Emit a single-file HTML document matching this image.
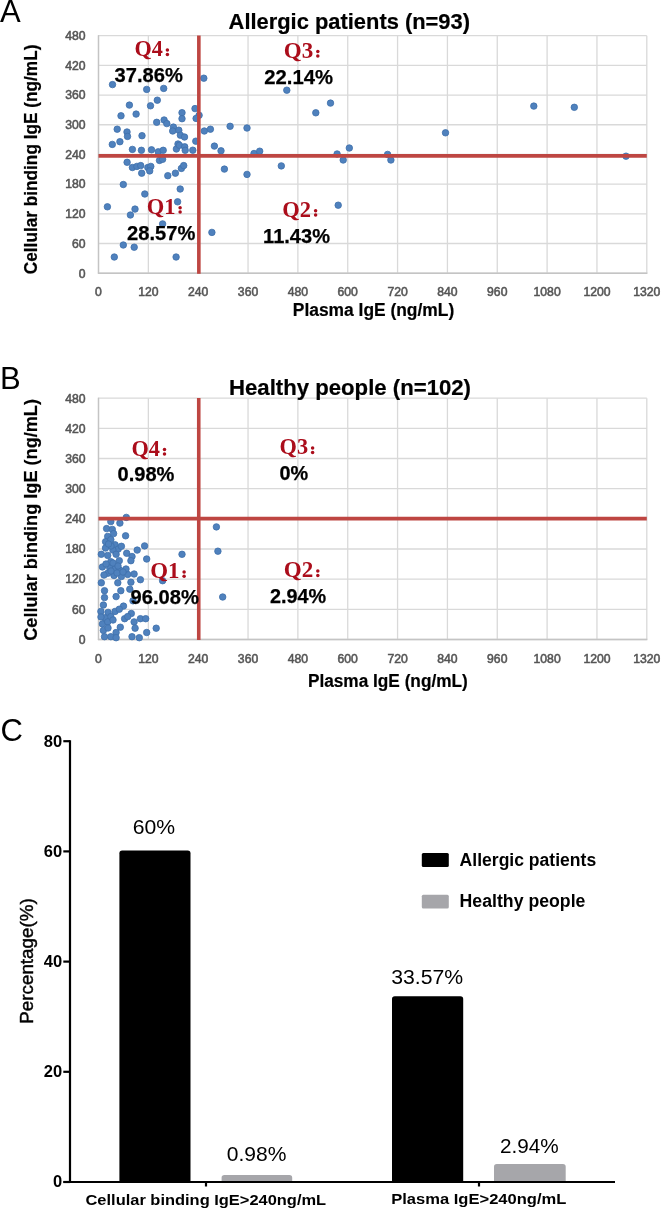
<!DOCTYPE html>
<html><head><meta charset="utf-8"><style>
html,body{margin:0;padding:0;background:#fff;}
svg{display:block;will-change:transform;}
.g{stroke:#d9d9d9;stroke-width:1.3;}
.ax{stroke:#c4c4c4;stroke-width:1.4;}
.tk{font-family:"Liberation Sans",sans-serif;font-size:12.2px;fill:#555;stroke:#555;stroke-width:0.55;}
.d{fill:#4f81bd;stroke:#3f70ab;stroke-width:0.8;}
.r{stroke:#be4642;}
.ttl{font-family:"Liberation Sans",sans-serif;font-size:21.5px;font-weight:bold;fill:#000;stroke:#000;stroke-width:0.2;}
.axt{font-family:"Liberation Sans",sans-serif;font-size:17.5px;font-weight:bold;fill:#000;stroke:#000;stroke-width:0.2;}
.q{font-family:"Liberation Serif",serif;font-size:22.5px;font-weight:bold;fill:#ab0d1b;}
.qc{fill:#ab0d1b;}
.pc{font-family:"Liberation Sans",sans-serif;font-size:19.8px;font-weight:bold;fill:#000;stroke:#000;stroke-width:0.25;}
.pl{font-family:"Liberation Sans",sans-serif;font-size:31px;fill:#000;}
.k{stroke:#000;stroke-width:2.2;}
.ctk{font-family:"Liberation Sans",sans-serif;font-size:16.5px;font-weight:bold;fill:#000;}
.bl{font-family:"Liberation Sans",sans-serif;font-size:20.9px;fill:#000;}
.lg{font-family:"Liberation Sans",sans-serif;font-size:18px;font-weight:bold;fill:#000;}
.cat{font-family:"Liberation Sans",sans-serif;font-size:15.5px;font-weight:bold;fill:#000;}
.yl{font-family:"Liberation Sans",sans-serif;font-size:18.3px;fill:#000;stroke:#000;stroke-width:0.45;}
</style></head><body>
<svg width="663" height="1209" viewBox="0 0 663 1209">
<rect width="663" height="1209" fill="#fff"/>
<line x1="98.50" y1="35.70" x2="98.50" y2="273.20" class="g"/>
<line x1="148.35" y1="35.70" x2="148.35" y2="273.20" class="g"/>
<line x1="198.19" y1="35.70" x2="198.19" y2="273.20" class="g"/>
<line x1="248.04" y1="35.70" x2="248.04" y2="273.20" class="g"/>
<line x1="297.88" y1="35.70" x2="297.88" y2="273.20" class="g"/>
<line x1="347.73" y1="35.70" x2="347.73" y2="273.20" class="g"/>
<line x1="397.57" y1="35.70" x2="397.57" y2="273.20" class="g"/>
<line x1="447.42" y1="35.70" x2="447.42" y2="273.20" class="g"/>
<line x1="497.26" y1="35.70" x2="497.26" y2="273.20" class="g"/>
<line x1="547.11" y1="35.70" x2="547.11" y2="273.20" class="g"/>
<line x1="596.95" y1="35.70" x2="596.95" y2="273.20" class="g"/>
<line x1="646.80" y1="35.70" x2="646.80" y2="273.20" class="g"/>
<line x1="98.50" y1="273.20" x2="646.80" y2="273.20" class="g"/>
<line x1="98.50" y1="243.51" x2="646.80" y2="243.51" class="g"/>
<line x1="98.50" y1="213.82" x2="646.80" y2="213.82" class="g"/>
<line x1="98.50" y1="184.14" x2="646.80" y2="184.14" class="g"/>
<line x1="98.50" y1="154.45" x2="646.80" y2="154.45" class="g"/>
<line x1="98.50" y1="124.76" x2="646.80" y2="124.76" class="g"/>
<line x1="98.50" y1="95.07" x2="646.80" y2="95.07" class="g"/>
<line x1="98.50" y1="65.39" x2="646.80" y2="65.39" class="g"/>
<line x1="98.50" y1="35.70" x2="646.80" y2="35.70" class="g"/>
<line x1="98.50" y1="35.10" x2="98.50" y2="273.80" class="ax"/>
<line x1="97.90" y1="273.20" x2="647.40" y2="273.20" class="ax"/>
<text x="85.5" y="277.50" class="tk" text-anchor="end">0</text>
<text x="85.5" y="247.81" class="tk" text-anchor="end">60</text>
<text x="85.5" y="218.12" class="tk" text-anchor="end">120</text>
<text x="85.5" y="188.44" class="tk" text-anchor="end">180</text>
<text x="85.5" y="158.75" class="tk" text-anchor="end">240</text>
<text x="85.5" y="129.06" class="tk" text-anchor="end">300</text>
<text x="85.5" y="99.37" class="tk" text-anchor="end">360</text>
<text x="85.5" y="69.69" class="tk" text-anchor="end">420</text>
<text x="85.5" y="40.00" class="tk" text-anchor="end">480</text>
<text x="98.50" y="295.90" class="tk" text-anchor="middle">0</text>
<text x="148.35" y="295.90" class="tk" text-anchor="middle">120</text>
<text x="198.19" y="295.90" class="tk" text-anchor="middle">240</text>
<text x="248.04" y="295.90" class="tk" text-anchor="middle">360</text>
<text x="297.88" y="295.90" class="tk" text-anchor="middle">480</text>
<text x="347.73" y="295.90" class="tk" text-anchor="middle">600</text>
<text x="397.57" y="295.90" class="tk" text-anchor="middle">720</text>
<text x="447.42" y="295.90" class="tk" text-anchor="middle">840</text>
<text x="497.26" y="295.90" class="tk" text-anchor="middle">960</text>
<text x="547.11" y="295.90" class="tk" text-anchor="middle">1080</text>
<text x="596.95" y="295.90" class="tk" text-anchor="middle">1200</text>
<text x="646.80" y="295.90" class="tk" text-anchor="middle">1320</text>
<circle cx="112.5" cy="84.6" r="3.25" class="d"/>
<circle cx="146.7" cy="89.4" r="3.25" class="d"/>
<circle cx="163.7" cy="88.4" r="3.25" class="d"/>
<circle cx="157.3" cy="100.2" r="3.25" class="d"/>
<circle cx="129.4" cy="105.1" r="3.25" class="d"/>
<circle cx="150.5" cy="105.8" r="3.25" class="d"/>
<circle cx="121" cy="115.8" r="3.25" class="d"/>
<circle cx="136.1" cy="114.1" r="3.25" class="d"/>
<circle cx="182" cy="112.7" r="3.25" class="d"/>
<circle cx="182" cy="118.7" r="3.25" class="d"/>
<circle cx="195" cy="108.6" r="3.25" class="d"/>
<circle cx="199.1" cy="115.3" r="3.25" class="d"/>
<circle cx="196.1" cy="118.4" r="3.25" class="d"/>
<circle cx="156.7" cy="122.3" r="3.25" class="d"/>
<circle cx="164.1" cy="120" r="3.25" class="d"/>
<circle cx="166.8" cy="123.6" r="3.25" class="d"/>
<circle cx="173.4" cy="127.1" r="3.25" class="d"/>
<circle cx="172.7" cy="131" r="3.25" class="d"/>
<circle cx="178.8" cy="130.2" r="3.25" class="d"/>
<circle cx="180.4" cy="135.2" r="3.25" class="d"/>
<circle cx="184.5" cy="137" r="3.25" class="d"/>
<circle cx="117.2" cy="129.2" r="3.25" class="d"/>
<circle cx="127" cy="132" r="3.25" class="d"/>
<circle cx="127.5" cy="136.4" r="3.25" class="d"/>
<circle cx="142" cy="135.7" r="3.25" class="d"/>
<circle cx="112.3" cy="144.4" r="3.25" class="d"/>
<circle cx="119.9" cy="141.7" r="3.25" class="d"/>
<circle cx="178" cy="144" r="3.25" class="d"/>
<circle cx="195.8" cy="141.2" r="3.25" class="d"/>
<circle cx="132.4" cy="149.4" r="3.25" class="d"/>
<circle cx="141.4" cy="150.3" r="3.25" class="d"/>
<circle cx="151.5" cy="149.8" r="3.25" class="d"/>
<circle cx="158.3" cy="151.8" r="3.25" class="d"/>
<circle cx="163.2" cy="150.3" r="3.25" class="d"/>
<circle cx="176.4" cy="149" r="3.25" class="d"/>
<circle cx="179.4" cy="145.3" r="3.25" class="d"/>
<circle cx="184.7" cy="146.8" r="3.25" class="d"/>
<circle cx="185.2" cy="150.3" r="3.25" class="d"/>
<circle cx="192.8" cy="150.2" r="3.25" class="d"/>
<circle cx="127.1" cy="162.3" r="3.25" class="d"/>
<circle cx="132.4" cy="167.5" r="3.25" class="d"/>
<circle cx="136.9" cy="166.4" r="3.25" class="d"/>
<circle cx="140.7" cy="165.6" r="3.25" class="d"/>
<circle cx="141.7" cy="173.2" r="3.25" class="d"/>
<circle cx="147.8" cy="167.5" r="3.25" class="d"/>
<circle cx="150.8" cy="166.4" r="3.25" class="d"/>
<circle cx="149.7" cy="170.9" r="3.25" class="d"/>
<circle cx="159.5" cy="160.4" r="3.25" class="d"/>
<circle cx="162.6" cy="159.3" r="3.25" class="d"/>
<circle cx="167.8" cy="175.7" r="3.25" class="d"/>
<circle cx="175.4" cy="173.2" r="3.25" class="d"/>
<circle cx="181.4" cy="168.4" r="3.25" class="d"/>
<circle cx="183.7" cy="165.6" r="3.25" class="d"/>
<circle cx="123.3" cy="184.5" r="3.25" class="d"/>
<circle cx="180.2" cy="189" r="3.25" class="d"/>
<circle cx="144.8" cy="194" r="3.25" class="d"/>
<circle cx="177.6" cy="201.8" r="3.25" class="d"/>
<circle cx="107.4" cy="206.8" r="3.25" class="d"/>
<circle cx="135" cy="209.1" r="3.25" class="d"/>
<circle cx="130.4" cy="215" r="3.25" class="d"/>
<circle cx="162.6" cy="223.9" r="3.25" class="d"/>
<circle cx="123.3" cy="245" r="3.25" class="d"/>
<circle cx="134.2" cy="247.2" r="3.25" class="d"/>
<circle cx="114.3" cy="257" r="3.25" class="d"/>
<circle cx="176.1" cy="257" r="3.25" class="d"/>
<circle cx="203.8" cy="78.2" r="3.25" class="d"/>
<circle cx="204.3" cy="131" r="3.25" class="d"/>
<circle cx="210.4" cy="129.2" r="3.25" class="d"/>
<circle cx="230.1" cy="126.3" r="3.25" class="d"/>
<circle cx="247" cy="128" r="3.25" class="d"/>
<circle cx="214.4" cy="146.1" r="3.25" class="d"/>
<circle cx="221" cy="150.8" r="3.25" class="d"/>
<circle cx="254" cy="153.5" r="3.25" class="d"/>
<circle cx="259.7" cy="151.2" r="3.25" class="d"/>
<circle cx="224.4" cy="169.1" r="3.25" class="d"/>
<circle cx="247" cy="174.4" r="3.25" class="d"/>
<circle cx="281.3" cy="165.9" r="3.25" class="d"/>
<circle cx="286.8" cy="90.2" r="3.25" class="d"/>
<circle cx="315.8" cy="112.8" r="3.25" class="d"/>
<circle cx="330.5" cy="103.1" r="3.25" class="d"/>
<circle cx="337.1" cy="154" r="3.25" class="d"/>
<circle cx="343.2" cy="160" r="3.25" class="d"/>
<circle cx="349.3" cy="148" r="3.25" class="d"/>
<circle cx="387.6" cy="154.4" r="3.25" class="d"/>
<circle cx="390.9" cy="160" r="3.25" class="d"/>
<circle cx="338.2" cy="205.2" r="3.25" class="d"/>
<circle cx="445.5" cy="132.8" r="3.25" class="d"/>
<circle cx="533.8" cy="106.1" r="3.25" class="d"/>
<circle cx="574.3" cy="107.3" r="3.25" class="d"/>
<circle cx="626" cy="156.2" r="3.25" class="d"/>
<circle cx="211.9" cy="232.4" r="3.25" class="d"/>
<line x1="198.85" y1="35.50" x2="198.85" y2="273.80" class="r" stroke-width="3.6"/>
<line x1="98.50" y1="155.8" x2="646.80" y2="155.8" class="r" stroke-width="3.8"/>
<text x="228.6" y="28.8" class="ttl" textLength="241.4" lengthAdjust="spacingAndGlyphs">Allergic patients (n=93)</text>
<text x="292.8" y="316.2" class="axt" textLength="161.4" lengthAdjust="spacingAndGlyphs">Plasma IgE (ng/mL)</text>
<line x1="98.50" y1="398.20" x2="98.50" y2="639.50" class="g"/>
<line x1="148.35" y1="398.20" x2="148.35" y2="639.50" class="g"/>
<line x1="198.19" y1="398.20" x2="198.19" y2="639.50" class="g"/>
<line x1="248.04" y1="398.20" x2="248.04" y2="639.50" class="g"/>
<line x1="297.88" y1="398.20" x2="297.88" y2="639.50" class="g"/>
<line x1="347.73" y1="398.20" x2="347.73" y2="639.50" class="g"/>
<line x1="397.57" y1="398.20" x2="397.57" y2="639.50" class="g"/>
<line x1="447.42" y1="398.20" x2="447.42" y2="639.50" class="g"/>
<line x1="497.26" y1="398.20" x2="497.26" y2="639.50" class="g"/>
<line x1="547.11" y1="398.20" x2="547.11" y2="639.50" class="g"/>
<line x1="596.95" y1="398.20" x2="596.95" y2="639.50" class="g"/>
<line x1="646.80" y1="398.20" x2="646.80" y2="639.50" class="g"/>
<line x1="98.50" y1="639.50" x2="646.80" y2="639.50" class="g"/>
<line x1="98.50" y1="609.34" x2="646.80" y2="609.34" class="g"/>
<line x1="98.50" y1="579.17" x2="646.80" y2="579.17" class="g"/>
<line x1="98.50" y1="549.01" x2="646.80" y2="549.01" class="g"/>
<line x1="98.50" y1="518.85" x2="646.80" y2="518.85" class="g"/>
<line x1="98.50" y1="488.69" x2="646.80" y2="488.69" class="g"/>
<line x1="98.50" y1="458.52" x2="646.80" y2="458.52" class="g"/>
<line x1="98.50" y1="428.36" x2="646.80" y2="428.36" class="g"/>
<line x1="98.50" y1="398.20" x2="646.80" y2="398.20" class="g"/>
<line x1="98.50" y1="397.60" x2="98.50" y2="640.10" class="ax"/>
<line x1="97.90" y1="639.50" x2="647.40" y2="639.50" class="ax"/>
<text x="85.5" y="643.80" class="tk" text-anchor="end">0</text>
<text x="85.5" y="613.64" class="tk" text-anchor="end">60</text>
<text x="85.5" y="583.47" class="tk" text-anchor="end">120</text>
<text x="85.5" y="553.31" class="tk" text-anchor="end">180</text>
<text x="85.5" y="523.15" class="tk" text-anchor="end">240</text>
<text x="85.5" y="492.99" class="tk" text-anchor="end">300</text>
<text x="85.5" y="462.82" class="tk" text-anchor="end">360</text>
<text x="85.5" y="432.66" class="tk" text-anchor="end">420</text>
<text x="85.5" y="402.50" class="tk" text-anchor="end">480</text>
<text x="98.50" y="663.00" class="tk" text-anchor="middle">0</text>
<text x="148.35" y="663.00" class="tk" text-anchor="middle">120</text>
<text x="198.19" y="663.00" class="tk" text-anchor="middle">240</text>
<text x="248.04" y="663.00" class="tk" text-anchor="middle">360</text>
<text x="297.88" y="663.00" class="tk" text-anchor="middle">480</text>
<text x="347.73" y="663.00" class="tk" text-anchor="middle">600</text>
<text x="397.57" y="663.00" class="tk" text-anchor="middle">720</text>
<text x="447.42" y="663.00" class="tk" text-anchor="middle">840</text>
<text x="497.26" y="663.00" class="tk" text-anchor="middle">960</text>
<text x="547.11" y="663.00" class="tk" text-anchor="middle">1080</text>
<text x="596.95" y="663.00" class="tk" text-anchor="middle">1200</text>
<text x="646.80" y="663.00" class="tk" text-anchor="middle">1320</text>
<circle cx="126.3" cy="517.4" r="3.25" class="d"/>
<circle cx="110.8" cy="521.6" r="3.25" class="d"/>
<circle cx="119.9" cy="523.1" r="3.25" class="d"/>
<circle cx="106.6" cy="528.6" r="3.25" class="d"/>
<circle cx="112.3" cy="529.4" r="3.25" class="d"/>
<circle cx="107.7" cy="536.4" r="3.25" class="d"/>
<circle cx="113.6" cy="533.6" r="3.25" class="d"/>
<circle cx="125.6" cy="535.8" r="3.25" class="d"/>
<circle cx="105.6" cy="541.7" r="3.25" class="d"/>
<circle cx="110.8" cy="539.6" r="3.25" class="d"/>
<circle cx="115.1" cy="544.8" r="3.25" class="d"/>
<circle cx="118.2" cy="549.1" r="3.25" class="d"/>
<circle cx="121.4" cy="546.3" r="3.25" class="d"/>
<circle cx="112.9" cy="550.1" r="3.25" class="d"/>
<circle cx="144.6" cy="545.9" r="3.25" class="d"/>
<circle cx="137.2" cy="550.1" r="3.25" class="d"/>
<circle cx="101.3" cy="554.3" r="3.25" class="d"/>
<circle cx="107.7" cy="555.4" r="3.25" class="d"/>
<circle cx="116.1" cy="554.3" r="3.25" class="d"/>
<circle cx="126.7" cy="553.3" r="3.25" class="d"/>
<circle cx="132" cy="556.5" r="3.25" class="d"/>
<circle cx="119.3" cy="560.7" r="3.25" class="d"/>
<circle cx="130.9" cy="560.7" r="3.25" class="d"/>
<circle cx="146.7" cy="559" r="3.25" class="d"/>
<circle cx="182" cy="554.3" r="3.25" class="d"/>
<circle cx="110.8" cy="561.7" r="3.25" class="d"/>
<circle cx="102.4" cy="567" r="3.25" class="d"/>
<circle cx="109.8" cy="568.1" r="3.25" class="d"/>
<circle cx="115.1" cy="569.1" r="3.25" class="d"/>
<circle cx="119.9" cy="570.2" r="3.25" class="d"/>
<circle cx="107.7" cy="573.3" r="3.25" class="d"/>
<circle cx="114" cy="575.5" r="3.25" class="d"/>
<circle cx="121.4" cy="576.5" r="3.25" class="d"/>
<circle cx="127.7" cy="574.4" r="3.25" class="d"/>
<circle cx="134.1" cy="574" r="3.25" class="d"/>
<circle cx="140.4" cy="579.7" r="3.25" class="d"/>
<circle cx="162.6" cy="580.7" r="3.25" class="d"/>
<circle cx="101.3" cy="582.8" r="3.25" class="d"/>
<circle cx="117.8" cy="582.8" r="3.25" class="d"/>
<circle cx="130.9" cy="582.2" r="3.25" class="d"/>
<circle cx="104.5" cy="590.7" r="3.25" class="d"/>
<circle cx="120.8" cy="590.7" r="3.25" class="d"/>
<circle cx="129.8" cy="589.2" r="3.25" class="d"/>
<circle cx="104.5" cy="597.6" r="3.25" class="d"/>
<circle cx="116.1" cy="596.6" r="3.25" class="d"/>
<circle cx="133" cy="600.8" r="3.25" class="d"/>
<circle cx="103.4" cy="605" r="3.25" class="d"/>
<circle cx="123.5" cy="606.1" r="3.25" class="d"/>
<circle cx="100.9" cy="611.4" r="3.25" class="d"/>
<circle cx="108.1" cy="612.4" r="3.25" class="d"/>
<circle cx="115.1" cy="611.4" r="3.25" class="d"/>
<circle cx="119.3" cy="609.2" r="3.25" class="d"/>
<circle cx="131.3" cy="613.5" r="3.25" class="d"/>
<circle cx="104.5" cy="617.7" r="3.25" class="d"/>
<circle cx="110.8" cy="616.6" r="3.25" class="d"/>
<circle cx="124.6" cy="618.7" r="3.25" class="d"/>
<circle cx="127.7" cy="616.6" r="3.25" class="d"/>
<circle cx="140.4" cy="618.7" r="3.25" class="d"/>
<circle cx="145.7" cy="618.7" r="3.25" class="d"/>
<circle cx="134.1" cy="621.9" r="3.25" class="d"/>
<circle cx="102.4" cy="624" r="3.25" class="d"/>
<circle cx="107.7" cy="621.9" r="3.25" class="d"/>
<circle cx="120.3" cy="627.2" r="3.25" class="d"/>
<circle cx="135.1" cy="628.2" r="3.25" class="d"/>
<circle cx="156.2" cy="628.2" r="3.25" class="d"/>
<circle cx="103.4" cy="630.4" r="3.25" class="d"/>
<circle cx="116.1" cy="632.5" r="3.25" class="d"/>
<circle cx="146.7" cy="632.5" r="3.25" class="d"/>
<circle cx="104.5" cy="636.7" r="3.25" class="d"/>
<circle cx="110.8" cy="636.7" r="3.25" class="d"/>
<circle cx="116.1" cy="637.7" r="3.25" class="d"/>
<circle cx="132" cy="636.7" r="3.25" class="d"/>
<circle cx="139.3" cy="637.7" r="3.25" class="d"/>
<circle cx="216.4" cy="526.9" r="3.25" class="d"/>
<circle cx="217.9" cy="551.2" r="3.25" class="d"/>
<circle cx="222.7" cy="597" r="3.25" class="d"/>
<circle cx="104" cy="575" r="3.25" class="d"/>
<circle cx="111" cy="546" r="3.25" class="d"/>
<circle cx="105.5" cy="548" r="3.25" class="d"/>
<circle cx="108" cy="628" r="3.25" class="d"/>
<circle cx="101" cy="617" r="3.25" class="d"/>
<circle cx="113" cy="620" r="3.25" class="d"/>
<circle cx="126" cy="569" r="3.25" class="d"/>
<circle cx="108.5" cy="544" r="3.25" class="d"/>
<circle cx="106" cy="564" r="3.25" class="d"/>
<circle cx="113" cy="563" r="3.25" class="d"/>
<circle cx="118" cy="566" r="3.25" class="d"/>
<circle cx="111" cy="571" r="3.25" class="d"/>
<circle cx="117" cy="573" r="3.25" class="d"/>
<circle cx="123" cy="572" r="3.25" class="d"/>
<line x1="198.75" y1="398.00" x2="198.75" y2="640.10" class="r" stroke-width="3.6"/>
<line x1="98.50" y1="518.6" x2="646.80" y2="518.6" class="r" stroke-width="3.8"/>
<text x="229.0" y="394.7" class="ttl" textLength="242.0" lengthAdjust="spacingAndGlyphs">Healthy people (n=102)</text>
<text x="307.9" y="687.1" class="axt" textLength="159.9" lengthAdjust="spacingAndGlyphs">Plasma IgE (ng/mL)</text>
<text x="134.5" y="56" class="q" textLength="28.4" lengthAdjust="spacingAndGlyphs">Q4</text>
<circle cx="167.40" cy="50.00" r="1.75" class="qc"/><circle cx="167.40" cy="54.40" r="1.75" class="qc"/>
<text x="283.79999999999995" y="57.6" class="q" textLength="29.5" lengthAdjust="spacingAndGlyphs">Q3</text>
<circle cx="317.80" cy="51.60" r="1.75" class="qc"/><circle cx="317.80" cy="56.00" r="1.75" class="qc"/>
<text x="146.8" y="213.7" class="q" textLength="28.8" lengthAdjust="spacingAndGlyphs">Q1</text>
<circle cx="180.10" cy="207.70" r="1.75" class="qc"/><circle cx="180.10" cy="212.10" r="1.75" class="qc"/>
<text x="282.29999999999995" y="216.7" class="q" textLength="28.8" lengthAdjust="spacingAndGlyphs">Q2</text>
<circle cx="315.60" cy="210.70" r="1.75" class="qc"/><circle cx="315.60" cy="215.10" r="1.75" class="qc"/>
<text x="131.5" y="455.6" class="q" textLength="28.5" lengthAdjust="spacingAndGlyphs">Q4</text>
<circle cx="164.50" cy="449.60" r="1.75" class="qc"/><circle cx="164.50" cy="454.00" r="1.75" class="qc"/>
<text x="279.59999999999997" y="454.1" class="q" textLength="28.5" lengthAdjust="spacingAndGlyphs">Q3</text>
<circle cx="312.60" cy="448.10" r="1.75" class="qc"/><circle cx="312.60" cy="452.50" r="1.75" class="qc"/>
<text x="150.3" y="577.9" class="q" textLength="29.3" lengthAdjust="spacingAndGlyphs">Q1</text>
<circle cx="184.10" cy="571.90" r="1.75" class="qc"/><circle cx="184.10" cy="576.30" r="1.75" class="qc"/>
<text x="283.79999999999995" y="577.1" class="q" textLength="29.5" lengthAdjust="spacingAndGlyphs">Q2</text>
<circle cx="317.80" cy="571.10" r="1.75" class="qc"/><circle cx="317.80" cy="575.50" r="1.75" class="qc"/>
<text x="114.60000000000001" y="81.8" class="pc" textLength="68.2" lengthAdjust="spacingAndGlyphs">37.86%</text>
<text x="264.3" y="83.6" class="pc" textLength="68.7" lengthAdjust="spacingAndGlyphs">22.14%</text>
<text x="127.0" y="240" class="pc" textLength="68.3" lengthAdjust="spacingAndGlyphs">28.57%</text>
<text x="263.09999999999997" y="243" class="pc" textLength="66.9" lengthAdjust="spacingAndGlyphs">11.43%</text>
<text x="117.5" y="481.3" class="pc" textLength="56.9" lengthAdjust="spacingAndGlyphs">0.98%</text>
<text x="279.4" y="479.8" class="pc" textLength="28.7" lengthAdjust="spacingAndGlyphs">0%</text>
<text x="130.5" y="603.5" class="pc" textLength="68.4" lengthAdjust="spacingAndGlyphs">96.08%</text>
<text x="270.0" y="602.8" class="pc" textLength="56.2" lengthAdjust="spacingAndGlyphs">2.94%</text>
<text transform="translate(36.8,274.2) rotate(-90)" x="0" y="0" class="axt" textLength="229.6" lengthAdjust="spacingAndGlyphs">Cellular binding IgE (ng/mL)</text>
<text transform="translate(36.8,640.8) rotate(-90)" x="0" y="0" class="axt" textLength="241.8" lengthAdjust="spacingAndGlyphs">Cellular binding IgE (ng/mL)</text>
<text x="0.1" y="21.9" class="pl">A</text>
<text x="0" y="389.4" class="pl">B</text>
<text x="0.5" y="741" class="pl">C</text>
<line x1="70" y1="740.2" x2="70" y2="1182.6" class="k"/>
<line x1="63.5" y1="1182" x2="615" y2="1182" class="k"/>
<line x1="63.3" y1="1182.00" x2="70" y2="1182.00" class="k"/>
<text x="62.2" y="1187.40" class="ctk" text-anchor="end">0</text>
<line x1="63.3" y1="1071.80" x2="70" y2="1071.80" class="k"/>
<text x="62.2" y="1077.20" class="ctk" text-anchor="end">20</text>
<line x1="63.3" y1="961.60" x2="70" y2="961.60" class="k"/>
<text x="62.2" y="967.00" class="ctk" text-anchor="end">40</text>
<line x1="63.3" y1="851.40" x2="70" y2="851.40" class="k"/>
<text x="62.2" y="856.80" class="ctk" text-anchor="end">60</text>
<line x1="63.3" y1="741.20" x2="70" y2="741.20" class="k"/>
<text x="62.2" y="746.60" class="ctk" text-anchor="end">80</text>
<line x1="206" y1="1181" x2="206" y2="1186.5" class="k"/>
<line x1="479" y1="1181" x2="479" y2="1186.5" class="k"/>
<path d="M119.4,1181 L119.4,853.3 Q119.4,850.5 122.2,850.5 L187.7,850.5 Q190.5,850.5 190.5,853.3 L190.5,1181 Z" fill="#000"/>
<path d="M221.6,1181 L221.6,1177.8 Q221.6,1175 224.4,1175 L289.4,1175 Q292.2,1175 292.2,1177.8 L292.2,1181 Z" fill="#a6a6aa"/>
<path d="M392,1181 L392,999.0999999999999 Q392,996.3 394.8,996.3 L460.4,996.3 Q463.2,996.3 463.2,999.0999999999999 L463.2,1181 Z" fill="#000"/>
<path d="M494,1181 L494,1166.8 Q494,1164 496.8,1164 L562.9000000000001,1164 Q565.7,1164 565.7,1166.8 L565.7,1181 Z" fill="#a6a6aa"/>
<text x="132.79999999999998" y="834.2" class="bl" textLength="42.4" lengthAdjust="spacingAndGlyphs">60%</text>
<text x="226.7" y="1160.6" class="bl" textLength="59.7" lengthAdjust="spacingAndGlyphs">0.98%</text>
<text x="391.2" y="983.5" class="bl" textLength="72.0" lengthAdjust="spacingAndGlyphs">33.57%</text>
<text x="500.0" y="1153" class="bl" textLength="58.8" lengthAdjust="spacingAndGlyphs">2.94%</text>
<rect x="421.8" y="853" width="27" height="14" rx="1.5" fill="#000"/>
<rect x="421.8" y="894.7" width="27" height="13.8" rx="1.5" fill="#a6a6aa"/>
<text x="459.6" y="865.7" class="lg" textLength="136.6" lengthAdjust="spacingAndGlyphs">Allergic patients</text>
<text x="459.6" y="907.4" class="lg" textLength="125.8" lengthAdjust="spacingAndGlyphs">Healthy people</text>
<text x="85.5" y="1205.2" class="cat" textLength="240.6" lengthAdjust="spacingAndGlyphs">Cellular binding IgE&gt;240ng/mL</text>
<text x="391.2" y="1204" class="cat" textLength="175.2" lengthAdjust="spacingAndGlyphs">Plasma IgE&gt;240ng/mL</text>
<text transform="translate(32.8,1023.8) rotate(-90)" x="0" y="0" class="yl" textLength="125.6" lengthAdjust="spacingAndGlyphs">Percentage(%)</text>
</svg>
</body></html>
